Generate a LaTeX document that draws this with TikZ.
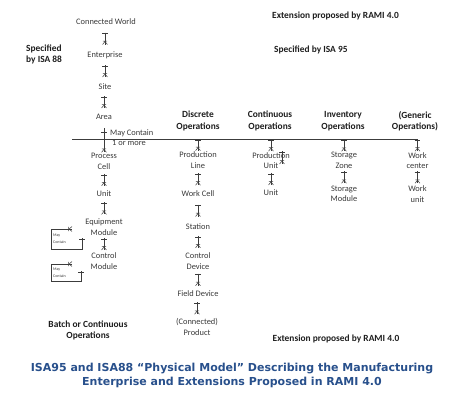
\documentclass[tikz,border=0pt]{standalone}
\usepackage{fontspec}
\setmainfont{Carlito}
\newfontfamily\capfont{DejaVu Sans}
\usetikzlibrary{decorations.markings,calc}
\definecolor{txt}{HTML}{3A3A3A}
\definecolor{boldc}{HTML}{1E1E1E}
\definecolor{linec}{HTML}{3C3C3C}
\definecolor{capc}{RGB}{40,80,140}
\newcommand\conn[2]{%
  \coordinate (cmA) at ($(#1.south)!0.5!(#2.north)$);
  \coordinate (cm) at (#2.north |- cmA);
  \draw[rel] ([yshift=6pt]cm) -- ([yshift=-6pt]cm);}
\begin{document}
\begin{tikzpicture}[x=1pt,y=-1pt,
  lbl/.style={font=\fontsize{8.4}{10.5}\selectfont, text=txt, inner sep=0pt, align=center},
  one/.style={lbl, text height=6pt, text depth=1.7pt},
  hdr/.style={font=\fontsize{9.4}{11.5}\selectfont\bfseries, text=boldc, inner sep=0pt, align=center},
  tinylbl/.style={font=\fontsize{4}{5}\selectfont, text=txt, inner sep=0pt, anchor=west},
  relbase/.style={draw=linec, line width=0.6pt},
  rel/.style={relbase, postaction={decorate}, decoration={markings,
     mark=at position #1 with {\draw[linec,line width=0.6pt] (0,-2.8pt) -- (0,2.8pt);},
     mark=at position -3pt with {\draw[linec,line width=0.5pt] (-0.5pt,-2.2pt) -- (-0.5pt,2.2pt) (0,0) -- (3pt,2.4pt) (0,0) -- (3pt,-2.4pt);}}},
  rel/.default=1pt
]
\fill[white] (0,0) rectangle (474,400);
\useasboundingbox (0,0) rectangle (474,400);

% top labels
\node[hdr] (ext1) at (335.5,16) {Extension proposed by RAMI 4.0};
\node[hdr, anchor=west] (isa95) at (274,50) {Specified by ISA 95};
\node[hdr, anchor=west, align=left] (isa88) at (26,54.5) {Specified\\by ISA 88};

% column A
\node[one] (cw) at (106,22) {Connected World};
\node[one] (ent) at (105,55) {Enterprise};
\node[one] (site) at (105,87) {Site};
\node[one] (area) at (104,117) {Area};
\node[lbl] (pcell) at (104,161.5) {Process\\Cell};
\node[one] (unitA) at (104,194) {Unit};
\node[lbl] (eqm) at (104,227) {Equipment\\Module};
\node[lbl] (cmod) at (104,261) {Control\\Module};

% column B
\node[hdr] (disc) at (198,121) {Discrete\\Operations};
\node[lbl] (pline) at (198,160) {Production\\Line};
\node[one] (wcell) at (198,194) {Work Cell};
\node[one] (station) at (198,227) {Station};
\node[lbl] (cdev) at (198,261) {Control\\Device};
\node[one] (fdev) at (198,294) {Field Device};
\node[lbl] (cprod) at (197,327) {(Connected)\\Product};

% column C
\node[hdr] (cont) at (270,121) {Continuous\\Operations};
\node[lbl] (punit) at (271,160.5) {Production\\Unit};
\node[one] (unitC) at (271,193) {Unit};

% column D
\node[hdr] (inv) at (343,121) {Inventory\\Operations};
\node[lbl] (szone) at (344,160.5) {Storage\\Zone};
\node[lbl] (smod) at (344,194) {Storage\\Module};

% column E
\node[hdr] (gen) at (415,121) {(Generic\\Operations)};
\node[lbl] (wcenter) at (417.5,160.5) {Work\\center};
\node[lbl] (wunit) at (417.5,194) {Work\\unit};

% bottom labels
\node[hdr] (batch) at (88,330.5) {Batch or Continuous\\Operations};
\node[hdr] (ext2) at (336,339) {Extension proposed by RAMI 4.0};
\node[font=\capfont\bfseries\fontsize{11}{13.5}\selectfont, text=capc, align=center, inner sep=0pt] (cap) at (232,375.5)
  {ISA95 and ISA88 “Physical Model” Describing the Manufacturing\\Enterprise and Extensions Proposed in RAMI 4.0};

% May contain label
\node[lbl, anchor=west] (mc) at (110,133) {May Contain};
\node[lbl, anchor=west] (om) at (112,143) {1 or more};

% connectors column A
\conn{cw}{ent}
\conn{ent}{site}
\conn{site}{area}
\conn{pcell}{unitA}
\conn{unitA}{eqm}
\conn{eqm}{cmod}
% column B
\conn{pline}{wcell}
\conn{wcell}{station}
\conn{station}{cdev}
\conn{cdev}{fdev}
\conn{fdev}{cprod}
% other columns
\conn{punit}{unitC}
\conn{szone}{smod}
\conn{wcenter}{wunit}

% area to process cell
\coordinate (ap) at (pcell.north |- area.south);
\draw[rel=4pt] ([yshift=-7pt]ap) -- ([yshift=1pt]pcell.north);

% horizontal line and ticks
\coordinate (hlA) at (72,139);
\coordinate (hlB) at (417.5,139);
\draw[relbase] (hlA) -- (hlB);
\draw[rel] (pline.north |- hlA) -- ([yshift=1pt]pline.north);
\draw[rel] (punit.north |- hlA) -- ([yshift=1pt]punit.north);
\draw[rel] (szone.north |- hlA) -- ([yshift=1pt]szone.north);
\draw[rel] (wcenter.north |- hlA) -- ([yshift=1pt]wcenter.north);

% stray connector over Production Unit
\coordinate (s1) at (282,151);
\coordinate (s2) at (282,164);
\draw[rel] (s1) -- (s2);

% self loops
\coordinate (e1) at (82,238);
\coordinate (e2) at (72,229);
\draw[rel=1.5pt] (e1) -- (82,249) -- (51,249) -- (51,229) -- (e2);
\node[tinylbl] (m1a) at (53,236) {May};
\node[tinylbl] (m1b) at (53,242.5) {Contain};
\coordinate (c1) at (81,271);
\coordinate (c2) at (72,264);
\draw[rel=1.5pt] (c1) -- (81,281) -- (51,281) -- (51,264) -- (c2);
\node[tinylbl] (m2a) at (53,270) {May};
\node[tinylbl] (m2b) at (53,276.5) {Contain};
\end{tikzpicture}
\end{document}
